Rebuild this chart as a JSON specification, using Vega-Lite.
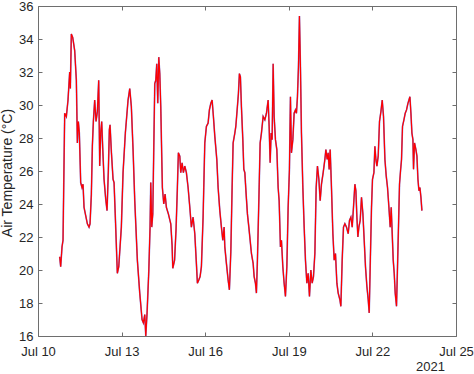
{
  "$schema": "https://vega.github.io/schema/vega-lite/v6.json",
  "width": 418,
  "height": 330,
  "autosize": "none",
  "padding": {"left": 38, "top": 6, "right": 18, "bottom": 38},
  "background": "white",
  "config": {
    "view": {"stroke": null},
    "font": "Liberation Sans",
    "axis": {
      "grid": false,
      "domainColor": "#6e6e6e",
      "domainWidth": 1,
      "tickColor": "#6e6e6e",
      "tickSize": -4,
      "labelFontSize": 13,
      "labelColor": "#262626",
      "labelFont": "Liberation Sans",
      "titleFont": "Liberation Sans",
      "titleColor": "#262626",
      "titleFontWeight": "normal"
    }
  },
  "data": {
    "values": [
      {"t": "2021-07-10T18:40", "v": 20.8}, {"t": "2021-07-10T19:32", "v": 20.2}, {"t": "2021-07-10T20:41", "v": 21.4}, {"t": "2021-07-10T21:33", "v": 21.8}, {"t": "2021-07-10T22:59", "v": 29.5},
      {"t": "2021-07-11T00:25", "v": 29.3}, {"t": "2021-07-11T01:51", "v": 30.3}, {"t": "2021-07-11T03:17", "v": 32.0}, {"t": "2021-07-11T03:52", "v": 31.0}, {"t": "2021-07-11T04:43", "v": 34.3},
      {"t": "2021-07-11T05:53", "v": 34.1}, {"t": "2021-07-11T06:44", "v": 33.7}, {"t": "2021-07-11T07:36", "v": 33.3}, {"t": "2021-07-11T09:02", "v": 31.5}, {"t": "2021-07-11T09:54", "v": 27.7},
      {"t": "2021-07-11T10:45", "v": 29.0}, {"t": "2021-07-11T11:37", "v": 28.3}, {"t": "2021-07-11T12:46", "v": 25.3}, {"t": "2021-07-11T13:55", "v": 25.0}, {"t": "2021-07-11T14:47", "v": 25.2},
      {"t": "2021-07-11T15:39", "v": 23.8}, {"t": "2021-07-11T17:05", "v": 23.3}, {"t": "2021-07-11T18:31", "v": 22.8}, {"t": "2021-07-11T19:57", "v": 22.6}, {"t": "2021-07-11T20:49", "v": 22.8},
      {"t": "2021-07-11T21:58", "v": 24.6}, {"t": "2021-07-11T22:49", "v": 27.5}, {"t": "2021-07-11T23:41", "v": 29.0}, {"t": "2021-07-12T00:50", "v": 30.3}, {"t": "2021-07-12T01:59", "v": 29.0},
      {"t": "2021-07-12T03:08", "v": 29.6}, {"t": "2021-07-12T04:17", "v": 31.5}, {"t": "2021-07-12T05:09", "v": 26.3}, {"t": "2021-07-12T06:00", "v": 28.3}, {"t": "2021-07-12T06:52", "v": 29.0},
      {"t": "2021-07-12T07:44", "v": 27.4}, {"t": "2021-07-12T08:53", "v": 25.5}, {"t": "2021-07-12T10:19", "v": 24.3}, {"t": "2021-07-12T11:28", "v": 23.6}, {"t": "2021-07-12T12:35", "v": 26.0},
      {"t": "2021-07-12T13:27", "v": 28.5}, {"t": "2021-07-12T14:03", "v": 28.8}, {"t": "2021-07-12T15:10", "v": 27.2}, {"t": "2021-07-12T16:38", "v": 25.5}, {"t": "2021-07-12T17:30", "v": 25.3},
      {"t": "2021-07-12T18:37", "v": 23.2}, {"t": "2021-07-12T20:20", "v": 19.8}, {"t": "2021-07-12T21:33", "v": 20.2}, {"t": "2021-07-12T22:40", "v": 21.4}, {"t": "2021-07-12T23:47", "v": 22.6},
      {"t": "2021-07-13T01:15", "v": 25.9}, {"t": "2021-07-13T03:14", "v": 28.3}, {"t": "2021-07-13T05:34", "v": 30.3}, {"t": "2021-07-13T07:01", "v": 31.0}, {"t": "2021-07-13T08:24", "v": 29.9},
      {"t": "2021-07-13T09:52", "v": 27.3}, {"t": "2021-07-13T11:20", "v": 24.2}, {"t": "2021-07-13T13:34", "v": 20.6}, {"t": "2021-07-13T15:38", "v": 18.6}, {"t": "2021-07-13T17:37", "v": 17.0},
      {"t": "2021-07-13T18:45", "v": 16.8}, {"t": "2021-07-13T19:57", "v": 17.3}, {"t": "2021-07-13T20:49", "v": 16.0}, {"t": "2021-07-13T21:56", "v": 17.4}, {"t": "2021-07-13T23:24", "v": 19.9},
      {"t": "2021-07-14T00:31", "v": 22.6}, {"t": "2021-07-14T01:07", "v": 25.3}, {"t": "2021-07-14T01:59", "v": 22.6}, {"t": "2021-07-14T02:51", "v": 23.4}, {"t": "2021-07-14T03:42", "v": 27.3},
      {"t": "2021-07-14T04:34", "v": 31.3}, {"t": "2021-07-14T05:26", "v": 31.5}, {"t": "2021-07-14T06:17", "v": 32.5}, {"t": "2021-07-14T07:09", "v": 30.1}, {"t": "2021-07-14T08:01", "v": 32.9},
      {"t": "2021-07-14T08:53", "v": 31.9}, {"t": "2021-07-14T09:44", "v": 29.9}, {"t": "2021-07-14T11:07", "v": 25.0}, {"t": "2021-07-14T12:19", "v": 24.0}, {"t": "2021-07-14T13:27", "v": 24.6},
      {"t": "2021-07-14T14:34", "v": 23.8}, {"t": "2021-07-14T16:17", "v": 23.4}, {"t": "2021-07-14T18:21", "v": 22.8}, {"t": "2021-07-14T19:29", "v": 21.5}, {"t": "2021-07-14T20:05", "v": 20.1},
      {"t": "2021-07-14T21:38", "v": 20.6}, {"t": "2021-07-14T22:55", "v": 22.5}, {"t": "2021-07-15T00:03", "v": 25.0}, {"t": "2021-07-15T00:54", "v": 27.1}, {"t": "2021-07-15T02:07", "v": 26.9},
      {"t": "2021-07-15T02:58", "v": 25.9}, {"t": "2021-07-15T04:06", "v": 26.5}, {"t": "2021-07-15T05:13", "v": 25.9}, {"t": "2021-07-15T06:25", "v": 26.3}, {"t": "2021-07-15T07:48", "v": 25.9},
      {"t": "2021-07-15T09:16", "v": 25.0}, {"t": "2021-07-15T10:44", "v": 23.8}, {"t": "2021-07-15T12:06", "v": 22.6}, {"t": "2021-07-15T13:34", "v": 23.2}, {"t": "2021-07-15T15:02", "v": 22.2},
      {"t": "2021-07-15T16:25", "v": 20.4}, {"t": "2021-07-15T17:17", "v": 19.2}, {"t": "2021-07-15T18:29", "v": 19.4}, {"t": "2021-07-15T19:36", "v": 19.6}, {"t": "2021-07-15T20:44", "v": 20.2},
      {"t": "2021-07-15T22:11", "v": 23.2}, {"t": "2021-07-15T23:39", "v": 27.7}, {"t": "2021-07-16T01:02", "v": 28.7}, {"t": "2021-07-16T02:30", "v": 28.9}, {"t": "2021-07-16T03:37", "v": 29.7},
      {"t": "2021-07-16T04:50", "v": 30.1}, {"t": "2021-07-16T05:57", "v": 30.3}, {"t": "2021-07-16T07:04", "v": 29.3}, {"t": "2021-07-16T08:17", "v": 28.1}, {"t": "2021-07-16T10:00", "v": 26.7},
      {"t": "2021-07-16T11:07", "v": 25.0}, {"t": "2021-07-16T12:35", "v": 23.6}, {"t": "2021-07-16T13:58", "v": 22.6}, {"t": "2021-07-16T15:10", "v": 21.8}, {"t": "2021-07-16T16:17", "v": 22.6},
      {"t": "2021-07-16T16:54", "v": 21.4}, {"t": "2021-07-16T18:16", "v": 20.4}, {"t": "2021-07-16T19:44", "v": 19.4}, {"t": "2021-07-16T20:51", "v": 18.8}, {"t": "2021-07-16T22:04", "v": 21.1},
      {"t": "2021-07-16T23:11", "v": 25.0}, {"t": "2021-07-17T00:03", "v": 27.7}, {"t": "2021-07-17T01:31", "v": 28.3}, {"t": "2021-07-17T02:22", "v": 28.7}, {"t": "2021-07-17T03:30", "v": 29.7},
      {"t": "2021-07-17T04:37", "v": 30.7}, {"t": "2021-07-17T05:28", "v": 31.9}, {"t": "2021-07-17T06:20", "v": 31.7}, {"t": "2021-07-17T07:12", "v": 29.9}, {"t": "2021-07-17T08:24", "v": 27.9},
      {"t": "2021-07-17T09:16", "v": 26.1}, {"t": "2021-07-17T10:08", "v": 25.9}, {"t": "2021-07-17T11:15", "v": 24.6}, {"t": "2021-07-17T12:22", "v": 23.4}, {"t": "2021-07-17T13:35", "v": 22.6},
      {"t": "2021-07-17T14:42", "v": 21.8}, {"t": "2021-07-17T15:49", "v": 21.0}, {"t": "2021-07-17T17:17", "v": 20.4}, {"t": "2021-07-17T18:09", "v": 19.6}, {"t": "2021-07-17T19:16", "v": 19.2},
      {"t": "2021-07-17T20:07", "v": 18.6}, {"t": "2021-07-17T20:59", "v": 20.6}, {"t": "2021-07-17T22:12", "v": 24.2}, {"t": "2021-07-17T23:19", "v": 27.7}, {"t": "2021-07-18T00:26", "v": 28.3},
      {"t": "2021-07-18T01:54", "v": 29.3}, {"t": "2021-07-18T03:22", "v": 29.1}, {"t": "2021-07-18T04:45", "v": 29.5}, {"t": "2021-07-18T06:12", "v": 30.3}, {"t": "2021-07-18T07:04", "v": 28.7},
      {"t": "2021-07-18T07:56", "v": 26.5}, {"t": "2021-07-18T08:48", "v": 28.3}, {"t": "2021-07-18T09:39", "v": 27.9}, {"t": "2021-07-18T10:31", "v": 32.5}, {"t": "2021-07-18T11:23", "v": 29.3},
      {"t": "2021-07-18T12:30", "v": 27.9}, {"t": "2021-07-18T13:42", "v": 27.3}, {"t": "2021-07-18T14:49", "v": 25.0}, {"t": "2021-07-18T15:41", "v": 24.2}, {"t": "2021-07-18T16:48", "v": 21.4},
      {"t": "2021-07-18T17:40", "v": 21.8}, {"t": "2021-07-18T18:52", "v": 20.2}, {"t": "2021-07-18T19:59", "v": 19.2}, {"t": "2021-07-18T21:07", "v": 18.4}, {"t": "2021-07-18T22:19", "v": 20.2},
      {"t": "2021-07-18T23:26", "v": 23.8}, {"t": "2021-07-19T00:33", "v": 26.1}, {"t": "2021-07-19T01:25", "v": 30.5}, {"t": "2021-07-19T02:17", "v": 27.1}, {"t": "2021-07-19T03:29", "v": 27.9},
      {"t": "2021-07-19T04:36", "v": 29.5}, {"t": "2021-07-19T05:44", "v": 29.7}, {"t": "2021-07-19T06:35", "v": 29.5}, {"t": "2021-07-19T07:27", "v": 30.5}, {"t": "2021-07-19T08:19", "v": 32.3},
      {"t": "2021-07-19T09:10", "v": 35.4}, {"t": "2021-07-19T10:02", "v": 32.3}, {"t": "2021-07-19T10:54", "v": 28.3}, {"t": "2021-07-19T12:06", "v": 25.0}, {"t": "2021-07-19T13:14", "v": 22.6},
      {"t": "2021-07-19T14:21", "v": 20.6}, {"t": "2021-07-19T15:33", "v": 19.2}, {"t": "2021-07-19T16:40", "v": 19.8}, {"t": "2021-07-19T17:48", "v": 18.4}, {"t": "2021-07-19T19:00", "v": 20.0},
      {"t": "2021-07-19T20:07", "v": 19.2}, {"t": "2021-07-19T21:15", "v": 19.6}, {"t": "2021-07-19T22:27", "v": 21.0}, {"t": "2021-07-19T23:34", "v": 25.0}, {"t": "2021-07-20T00:41", "v": 26.3},
      {"t": "2021-07-20T01:54", "v": 25.5}, {"t": "2021-07-20T03:01", "v": 24.2}, {"t": "2021-07-20T04:08", "v": 25.2}, {"t": "2021-07-20T05:36", "v": 25.9}, {"t": "2021-07-20T07:04", "v": 26.7},
      {"t": "2021-07-20T07:56", "v": 27.3}, {"t": "2021-07-20T09:03", "v": 26.7}, {"t": "2021-07-20T09:55", "v": 27.1}, {"t": "2021-07-20T10:46", "v": 26.1}, {"t": "2021-07-20T11:38", "v": 27.3},
      {"t": "2021-07-20T12:45", "v": 25.0}, {"t": "2021-07-20T13:58", "v": 22.2}, {"t": "2021-07-20T15:05", "v": 20.6}, {"t": "2021-07-20T16:12", "v": 21.0}, {"t": "2021-07-20T17:25", "v": 19.2},
      {"t": "2021-07-20T18:32", "v": 18.6}, {"t": "2021-07-20T20:00", "v": 18.2}, {"t": "2021-07-20T20:51", "v": 17.8}, {"t": "2021-07-20T21:59", "v": 20.6}, {"t": "2021-07-20T23:06", "v": 22.6},
      {"t": "2021-07-21T00:18", "v": 22.8}, {"t": "2021-07-21T01:41", "v": 22.6}, {"t": "2021-07-21T03:09", "v": 22.2}, {"t": "2021-07-21T04:16", "v": 23.0}, {"t": "2021-07-21T05:28", "v": 23.2},
      {"t": "2021-07-21T06:36", "v": 22.6}, {"t": "2021-07-21T07:43", "v": 23.8}, {"t": "2021-07-21T08:55", "v": 25.2}, {"t": "2021-07-21T09:47", "v": 24.8}, {"t": "2021-07-21T10:39", "v": 23.2},
      {"t": "2021-07-21T11:30", "v": 22.0}, {"t": "2021-07-21T12:22", "v": 22.6}, {"t": "2021-07-21T13:29", "v": 23.0}, {"t": "2021-07-21T14:37", "v": 24.4}, {"t": "2021-07-21T15:49", "v": 23.4},
      {"t": "2021-07-21T16:56", "v": 21.8}, {"t": "2021-07-21T18:03", "v": 20.2}, {"t": "2021-07-21T19:16", "v": 19.0}, {"t": "2021-07-21T20:23", "v": 18.2}, {"t": "2021-07-21T21:15", "v": 17.4},
      {"t": "2021-07-21T22:06", "v": 20.2}, {"t": "2021-07-21T23:14", "v": 23.8}, {"t": "2021-07-22T00:05", "v": 25.5}, {"t": "2021-07-22T01:18", "v": 25.9}, {"t": "2021-07-22T02:09", "v": 27.5},
      {"t": "2021-07-22T03:01", "v": 26.7}, {"t": "2021-07-22T03:53", "v": 26.3}, {"t": "2021-07-22T05:00", "v": 26.9}, {"t": "2021-07-22T06:07", "v": 29.0}, {"t": "2021-07-22T07:20", "v": 29.6},
      {"t": "2021-07-22T08:27", "v": 30.3}, {"t": "2021-07-22T09:34", "v": 29.3}, {"t": "2021-07-22T10:47", "v": 26.7}, {"t": "2021-07-22T11:54", "v": 25.7}, {"t": "2021-07-22T13:01", "v": 25.0},
      {"t": "2021-07-22T14:13", "v": 23.8}, {"t": "2021-07-22T15:20", "v": 22.6}, {"t": "2021-07-22T16:12", "v": 23.8}, {"t": "2021-07-22T17:04", "v": 22.2}, {"t": "2021-07-22T17:56", "v": 20.6},
      {"t": "2021-07-22T18:47", "v": 19.8}, {"t": "2021-07-22T19:39", "v": 18.6}, {"t": "2021-07-22T20:46", "v": 17.8}, {"t": "2021-07-22T21:38", "v": 20.2}, {"t": "2021-07-22T22:30", "v": 22.7},
      {"t": "2021-07-22T23:21", "v": 25.2}, {"t": "2021-07-23T00:13", "v": 26.0}, {"t": "2021-07-23T01:05", "v": 26.7}, {"t": "2021-07-23T01:56", "v": 28.7}, {"t": "2021-07-23T03:09", "v": 29.1},
      {"t": "2021-07-23T04:16", "v": 29.5}, {"t": "2021-07-23T05:23", "v": 29.7}, {"t": "2021-07-23T06:36", "v": 30.1}, {"t": "2021-07-23T07:27", "v": 30.3}, {"t": "2021-07-23T08:19", "v": 30.5},
      {"t": "2021-07-23T09:11", "v": 29.5}, {"t": "2021-07-23T10:02", "v": 28.3}, {"t": "2021-07-23T10:54", "v": 27.9}, {"t": "2021-07-23T11:25", "v": 26.1}, {"t": "2021-07-23T12:17", "v": 27.7},
      {"t": "2021-07-23T13:29", "v": 27.3}, {"t": "2021-07-23T14:21", "v": 26.9}, {"t": "2021-07-23T15:13", "v": 25.5}, {"t": "2021-07-23T16:04", "v": 24.8}, {"t": "2021-07-23T16:56", "v": 25.0},
      {"t": "2021-07-23T17:48", "v": 24.4}, {"t": "2021-07-23T18:39", "v": 23.6}
    ]
  },
  "layer": [
    {
      "mark": {"type": "line", "color": "#4040c8", "strokeWidth": 1.6, "opacity": 0.7},
      "encoding": {
        "x": {
          "field": "t", "type": "temporal",
          "scale": {"domain": [{"year": 2021, "month": 7, "date": 10}, {"year": 2021, "month": 7, "date": 25}], "nice": false},
          "axis": {
            "orient": "bottom",
            "values": [{"year": 2021, "month": 7, "date": 10}, {"year": 2021, "month": 7, "date": 13}, {"year": 2021, "month": 7, "date": 16}, {"year": 2021, "month": 7, "date": 19}, {"year": 2021, "month": 7, "date": 22}, {"year": 2021, "month": 7, "date": 25}],
            "format": "%b %d",
            "labelPadding": 13,
            "labelFlush": false,
            "labelOverlap": false,
            "title": "2021",
            "titleFontSize": 13,
            "titleX": 392,
            "titleY": 30,
            "titleAlign": "center",
            "titleBaseline": "middle",
            "titleAnchor": null
          }
        },
        "y": {
          "field": "v", "type": "quantitative",
          "scale": {"domain": [16, 36], "nice": false, "zero": false},
          "axis": {
            "orient": "left",
            "values": [16, 18, 20, 22, 24, 26, 28, 30, 32, 34, 36],
            "labelPadding": 9,
            "title": "Air Temperature (°C)",
            "titleFontSize": 14,
            "titleX": -30.5,
            "titleY": 166.5,
            "titleAngle": -90,
            "titleAlign": "center",
            "titleBaseline": "middle",
            "titleAnchor": null
          }
        }
      }
    },
    {
      "mark": {"type": "line", "color": "#ff0000", "strokeWidth": 1.2},
      "encoding": {
        "x": {
          "field": "t", "type": "temporal",
          "axis": {
            "orient": "top",
            "values": [{"year": 2021, "month": 7, "date": 10}, {"year": 2021, "month": 7, "date": 13}, {"year": 2021, "month": 7, "date": 16}, {"year": 2021, "month": 7, "date": 19}, {"year": 2021, "month": 7, "date": 22}, {"year": 2021, "month": 7, "date": 25}],
            "labels": false,
            "title": null
          }
        },
        "y": {
          "field": "v", "type": "quantitative",
          "axis": {
            "orient": "right",
            "values": [16, 18, 20, 22, 24, 26, 28, 30, 32, 34, 36],
            "labels": false,
            "title": null
          }
        }
      }
    }
  ],
  "resolve": {"axis": {"x": "independent", "y": "independent"}}
}
